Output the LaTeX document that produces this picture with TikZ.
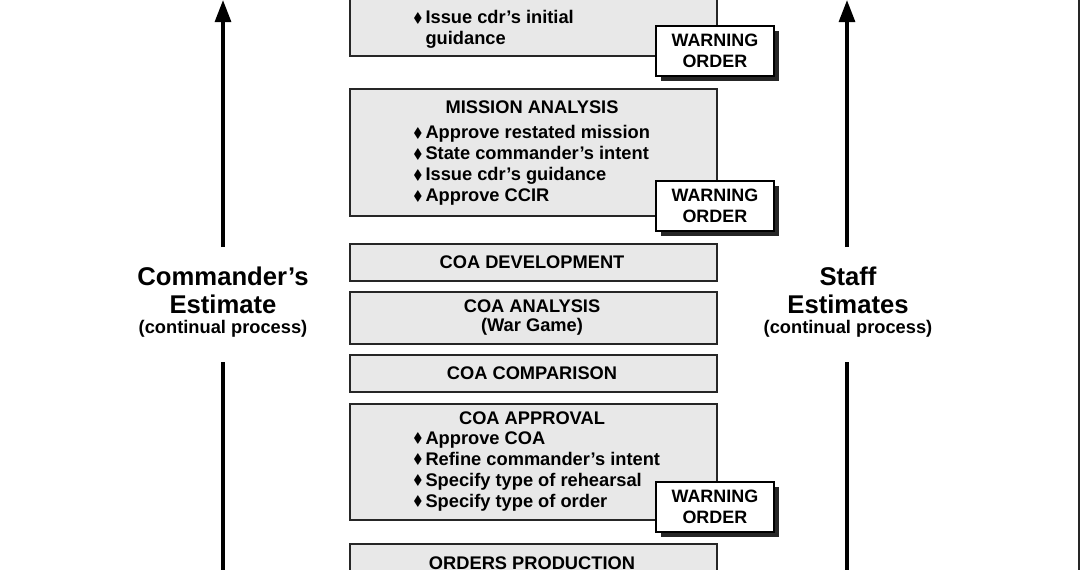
\documentclass[tikz,border=0pt]{standalone}
\usepackage{fontspec}
\setmainfont{Liberation Sans}
\usepackage{amssymb}
\usetikzlibrary{arrows.meta}
\tikzset{
  stepbox/.style={draw=black!85, line width=1pt, fill=black!9, minimum width=367*0.02cm, anchor=north west, inner sep=0pt},
  title/.style={font=\bfseries\fontsize{10.4}{11}\selectfont, anchor=center, inner sep=0pt},
  items/.style={font=\bfseries\fontsize{10.4}{12}\selectfont, anchor=north west, align=left, inner sep=0pt},
  warn/.style={draw=black, line width=1pt, fill=white, minimum width=118*0.02cm, minimum height=50*0.02cm, align=center, inner sep=0pt,
    font=\bfseries\fontsize{10.2}{12}\selectfont, anchor=north west},
  side/.style={font=\bfseries\fontsize{14.6}{16}\selectfont, align=center, inner sep=0pt},
  note/.style={font=\bfseries\fontsize{10.4}{12}\selectfont, inner sep=0pt},
  flow/.style={line width=2pt, -{Triangle[width=9pt, length=22*0.02cm]}},
}
\newcommand{\bul}{\raisebox{0.15ex}{\scalebox{0.75}{$\blacklozenge$}}\,}
\newcommand{\warnbox}[3]{% name, x, y
  \fill[black!85] (#2+6,#3+6) rectangle (#2+124,#3+56);
  \node[warn] (#1) at (#2,#3) {WARNING\\ORDER};}
\begin{document}
\begin{tikzpicture}[x=0.02cm, y=-0.02cm]
\useasboundingbox (0,0) rectangle (1085,569);
% right frame line
\draw[line width=1.5pt, black!85] (1079,-5) -- (1079,575);

% steps
\node[stepbox, minimum height=70*0.02cm] (recv) at (349,-15) {};
\node[items] (recvt) at (413,10) {\bul Issue cdr’s initial\\\hphantom{\bul}guidance};
\warnbox{w1}{655}{25}

\node[stepbox, minimum height=127*0.02cm] (ma) at (349,88) {};
\node[title] (mat) at (532,107) {MISSION ANALYSIS};
\node[items] (mai) at (413,125) {\bul Approve restated mission\\\bul State commander’s intent\\\bul Issue cdr’s guidance\\\bul Approve CCIR};
\warnbox{w2}{655}{180}

\node[stepbox, minimum height=37*0.02cm] (dev) at (349,243) {};
\node[title] (devt) at (532,262) {COA DEVELOPMENT};

\node[stepbox, minimum height=52*0.02cm] (an) at (349,291) {};
\node[title] (ant) at (532,306) {COA ANALYSIS};
\node[title] (ant2) at (532,327) {(War Game)};

\node[stepbox, minimum height=37*0.02cm] (cmp) at (349,354) {};
\node[title] (cmpt) at (532,373) {COA COMPARISON};

\node[stepbox, minimum height=116*0.02cm] (app) at (349,403) {};
\node[title] (appt) at (532,418) {COA APPROVAL};
\node[items] (appi) at (413,431) {\bul Approve COA\\\bul Refine commander’s intent\\\bul Specify type of rehearsal\\\bul Specify type of order};
\warnbox{w3}{655}{481}

\node[stepbox, minimum height=50*0.02cm] (op) at (349,543) {};
\node[title] (opt) at (532,563) {ORDERS PRODUCTION};

% side estimates
\node[side] (cmd) at (223,290) {Commander’s\\Estimate};
\node[note] (cmdn) at (223,329) {(continual process)};
\node[side] (stf) at (848,290) {Staff\\Estimates};
\node[note] (stfn) at (848,329) {(continual process)};

\coordinate (l1) at (223,247); \coordinate (l0) at (223,0);
\coordinate (l2) at (223,362); \coordinate (l3) at (223,575);
\coordinate (r1) at (847,247); \coordinate (r0) at (847,0);
\coordinate (r2) at (847,362); \coordinate (r3) at (847,575);
\draw[flow] (l1) -- (l0);
\draw[line width=2pt] (l2) -- (l3);
\draw[flow] (r1) -- (r0);
\draw[line width=2pt] (r2) -- (r3);
\end{tikzpicture}
\end{document}
